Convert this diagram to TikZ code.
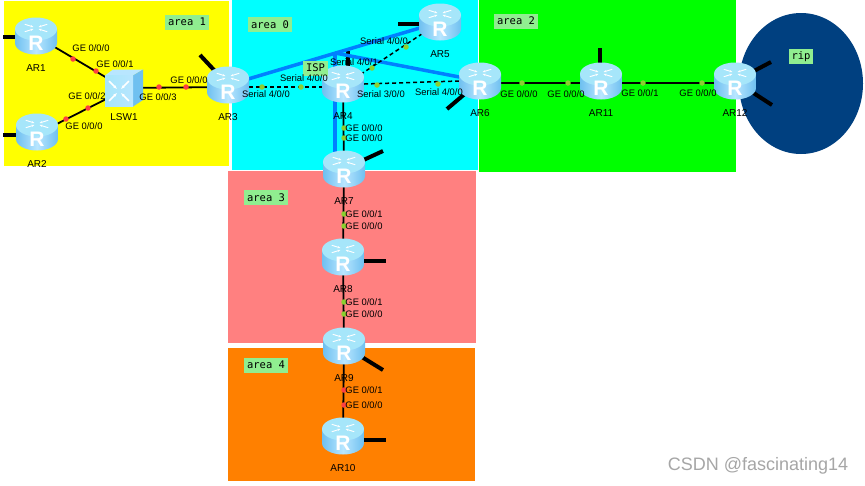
\documentclass[tikz,border=0pt]{standalone}
\usepackage{fontspec}
\usetikzlibrary{arrows.meta,calc}
\setmainfont{Liberation Sans}
\setmonofont{DejaVu Sans Mono}
\pgfdeclarelayer{zones}
\pgfdeclarelayer{links}
\pgfsetlayers{zones,links,main}
\definecolor{routertop}{HTML}{A6E6FA}
\definecolor{routerside}{HTML}{6FC0F0}
\definecolor{routermid}{HTML}{B8E6FF}
\definecolor{tagfill}{HTML}{90EE90}
\definecolor{netblue}{HTML}{0080FF}
\definecolor{ripblue}{HTML}{004080}
\definecolor{zoneyellow}{HTML}{FFFF00}
\definecolor{zonecyan}{HTML}{00FFFF}
\definecolor{zonegreen}{HTML}{00FF00}
\definecolor{zonepink}{HTML}{FF8080}
\definecolor{zoneorange}{HTML}{FF8000}
\definecolor{dotred}{HTML}{FF4040}
\definecolor{dotgreen}{HTML}{8CD030}
\tikzset{
    router/.style={minimum width=42pt, minimum height=37pt, inner sep=0pt, path picture={
        \shade[left color=routerside, right color=routerside, middle color=routermid]
            (-21pt,7pt) -- (-21pt,-7pt) arc[start angle=180, end angle=360, x radius=21pt, y radius=11.5pt] -- (21pt,7pt) -- cycle;
        \fill[routertop] (0pt,7pt) ellipse (21pt and 11.5pt);
        \foreach \a in {30,150,210,330} {
            \draw[white, line width=0.9pt, -{Stealth[length=3pt]}]
                ($(0pt,8pt)+(\a:13pt and 7.5pt)$) -- ($(0pt,8pt)+(\a:3pt and 2pt)$);
        }
        \node[white, font=\fontsize{21}{21}\selectfont\bfseries, inner sep=0pt] at (0pt,-7pt) {R};
    }},
    switch/.style={minimum width=38pt, minimum height=37pt, inner sep=0pt, path picture={
        \fill[routermid] (-19pt,12.5pt) -- (-11pt,18.5pt) -- (19pt,18.5pt) -- (9pt,12.5pt) -- cycle;
        \fill[routerside] (9pt,12.5pt) -- (19pt,18.5pt) -- (19pt,-12pt) -- (9pt,-18.5pt) -- cycle;
        \shade[left color=routertop, right color=routermid] (-19pt,12.5pt) rectangle (9pt,-18.5pt);
        \foreach \a in {45,135,225,315} {
            \draw[white, line width=1.5pt, -{Stealth[length=4pt]}]
                ($(-5pt,-3pt)+(\a:14pt)$) -- ($(-5pt,-3pt)+(\a:3pt)$);
        }
    }},
    devname/.style={font=\fontsize{10}{11}\selectfont, inner sep=0pt},
    port/.style={font=\fontsize{9.4}{10}\selectfont, inner sep=0pt},
    tag/.style={fill=tagfill, font=\ttfamily\fontsize{10.5}{11}\selectfont, inner sep=0pt, minimum width=44pt, minimum height=15pt},
    eth/.style={black, line width=1.8pt},
    serial/.style={black, line width=1.5pt, dash pattern=on 4pt off 3pt},
    net/.style={netblue, line width=3.5pt},
    stub/.style={black, line width=4pt},
    reddot/.style={circle, fill=dotred, inner sep=0pt, minimum size=5.5pt},
    greendot/.style={circle, fill=dotgreen, inner sep=0pt, minimum size=5.5pt}
}
\begin{document}
\begin{tikzpicture}[x=1pt, y=-1pt]
    \useasboundingbox (0,0) rectangle (865,485);

    \begin{pgfonlayer}{zones}
        \fill[white] (0,0) rectangle (865,485);
        \fill[zoneyellow] (4,1) rectangle (229,166);
        \fill[zonecyan] (232,0) rectangle (478,170);
        \fill[zonegreen] (479,0) rectangle (736,172);
        \fill[zonepink] (228,171) rectangle (476,343);
        \fill[zoneorange] (228,348) rectangle (475,481);
        \fill[ripblue] (801,83.5) ellipse (62 and 70.5);
    \end{pgfonlayer}

    % devices
    \foreach \name/\x/\y in {AR1/36/36, AR2/37/132, AR3/228/85, AR4/343/84, AR5/440/22, AR6/480/81,
            AR7/344/169, AR8/343/257, AR9/344/346, AR10/343/436, AR11/601/81, AR12/735/81} {
        \node[router] (\name) at (\x,\y) {};
        \node[devname] (\name-name) at (\x,\y+32) {\name};
    }
    \node[switch] (LSW1) at (124,88) {};
    \node[devname] (LSW1-name) at (124,117) {LSW1};

    % free ends of the stubs
    \coordinate (s1) at (3,37);
    \coordinate (s2) at (3,135);
    \coordinate (s3) at (200,55);
    \coordinate (s4) at (348,51);
    \coordinate (s5) at (398,24);
    \coordinate (s6) at (447,109);
    \coordinate (s7) at (383,151);
    \coordinate (s8) at (386,261);
    \coordinate (s9) at (383,370);
    \coordinate (s10) at (386,440);
    \coordinate (s11) at (600,48);
    \coordinate (s12) at (771,62);
    \coordinate (s13) at (772,105);
    \coordinate (ispjoin) at (335,53);

    \begin{pgfonlayer}{links}
        \draw[stub] (AR1.center) ++(-21,1) -- (s1);
        \draw[stub] (AR2.center) ++(-21,3) -- (s2);
        \draw[stub] (AR3.center) -- (s3);
        \draw[stub] ([xshift=5pt]AR4.center) -- (s4);
        \draw[stub] (AR5.center) ++(-20,2) -- (s5);
        \draw[stub] (AR6.center) -- (s6);
        \draw[stub] (AR7.center) -- (s7);
        \draw[stub] (AR8.center) ++(0,4) -- (s8);
        \draw[stub] (AR9.center) -- (s9);
        \draw[stub] (AR10.center) ++(0,4) -- (s10);
        \draw[stub] (AR11.center) ++(-1,0) -- (s11);
        \draw[stub] (AR12.center) -- (s12);
        \draw[stub] (AR12.center) -- (s13);

        \draw[net] (AR3.center) -- (AR5.center);
        \draw[net] (ispjoin) -- (AR6.center);
        \draw[net] (ispjoin) -- ([xshift=-9pt]AR7.center);

        \draw[eth] (AR1.center) -- (LSW1.center);
        \draw[eth] ([yshift=-2pt]AR2.center) -- ([yshift=-2pt]LSW1.center);
        \draw[eth] (LSW1.center) -- ([yshift=-2pt]AR3.center);
        \draw[eth] (AR4.center) -- (AR7.center);
        \draw[eth] (AR7.center) -- (AR8.center);
        \draw[eth] (AR8.center) -- (AR9.center);
        \draw[eth] (AR9.center) -- (AR10.center);
        \draw[eth] ([yshift=-2pt]AR6.center) -- ([yshift=-2pt]AR11.center);
        \draw[eth] ([yshift=-2pt]AR11.center) -- ([yshift=-2pt]AR12.center);

        \draw[serial] ([yshift=-2pt]AR3.east) -- ([yshift=-3pt]AR4.west);
        \draw[serial] ([yshift=-2pt]AR4.center) -- (AR5.center);
        \draw[serial] (AR4.east) -- (AR6.west);
    \end{pgfonlayer}

    % interface dots
    \foreach \x/\y in {73/59, 96/71, 88/108, 66/119, 159/87, 186/87, 344/390, 344/405} {
        \node[reddot] (d\x-\y) at (\x,\y) {};
    }
    \foreach \x/\y in {262/87, 301/87, 406/47, 372/68, 377/85, 438/84, 344/128, 344/138,
            522/83, 568/83, 643/83, 702/83, 344/214, 344/226, 344/302, 344/314} {
        \node[greendot] (d\x-\y) at (\x,\y) {};
    }

    % area and network tags
    \node[tag] (area1) at (187,22) {area 1};
    \node[tag] (area0) at (270,24.5) {area 0};
    \node[tag] (area2) at (516,21) {area 2};
    \node[tag] (area3) at (266,197.5) {area 3};
    \node[tag] (area4) at (266,365) {area 4};
    \node[tag, minimum width=24pt] (rip) at (801,56.5) {rip};
    \node[tag, minimum width=25pt] (isp) at (315.5,68) {ISP};

    % interface labels
    \foreach \x/\y/\txt [count=\i] in {91/48/{GE 0/0/0}, 115/64/{GE 0/0/1}, 87/96/{GE 0/0/2}, 84/126/{GE 0/0/0},
            158/97/{GE 0/0/3}, 189/80/{GE 0/0/0}, 266/94/{Serial 4/0/0}, 304/78/{Serial 4/0/0},
            354/62/{Serial 4/0/1}, 384/41/{Serial 4/0/0}, 381/94/{Serial 3/0/0}, 439/92/{Serial 4/0/0},
            364/128/{GE 0/0/0}, 364/138/{GE 0/0/0}, 519/94/{GE 0/0/0}, 566/94/{GE 0/0/0},
            640/93/{GE 0/0/1}, 698/93/{GE 0/0/0}, 364/214/{GE 0/0/1}, 364/226/{GE 0/0/0},
            364/302/{GE 0/0/1}, 364/314/{GE 0/0/0}, 364/390/{GE 0/0/1}, 364/405/{GE 0/0/0}} {
        \node[port] (port\i) at (\x,\y) {\txt};
    }

    \node[text=gray!70, font=\fontsize{18}{19}\selectfont, inner sep=0pt] (mark) at (758,466) {CSDN @fascinating14};
\end{tikzpicture}
\end{document}
